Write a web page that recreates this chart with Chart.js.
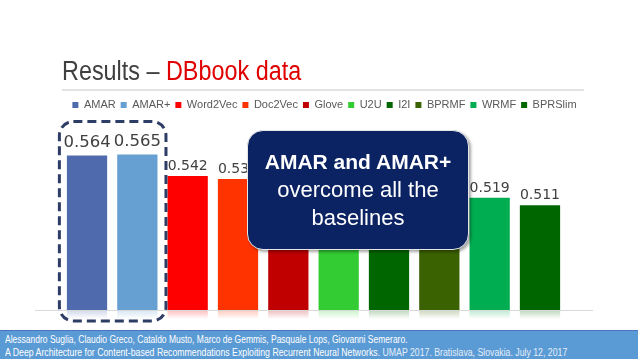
<!DOCTYPE html>
<html>
<head>
<meta charset="utf-8">
<script src="https://cdn.jsdelivr.net/npm/chart.js@4.4.0/dist/chart.umd.min.js"></script>
<style>
  html, body { margin: 0; padding: 0; background: #fff; }
  #slide { position: relative; width: 638px; height: 359px; overflow: hidden; font-family: "Liberation Sans", Arial, sans-serif; }
  #chart { position: absolute; left: 0; top: 0; }
  #title { position: absolute; left: 62px; top: 58px; font-size: 27px; line-height: 27px; color: #404040; white-space: nowrap; transform: scaleX(0.866); transform-origin: 0 0; }
  #title span { color: #e00000; }
  #rule { position: absolute; left: 62px; top: 89px; width: 522px; height: 2px; background: #e3e3e3; }
  #callout { position: absolute; left: 247px; top: 130px; width: 222px; height: 120px; box-sizing: border-box; background: #0b2263; border: 1.5px solid #e6e6e6; border-radius: 16px; box-shadow: 2px 2px 3px rgba(0,0,0,0.35); color: #fff; text-align: center; }
  #callout div { position: absolute; left: 0; right: 0; line-height: 28px; white-space: nowrap; }
  #footer { position: absolute; left: 0; top: 330px; width: 638px; height: 29px; background: #5b9bd5; border-top: 1.5px solid #4a74c0; box-sizing: border-box; color: #fff; font-size: 10px; }
  #footer div { position: absolute; left: 5px; white-space: nowrap; line-height: 12px; transform-origin: 0 0; }
  #footer .light { color: #e4eef9; }
</style>
</head>
<body>
<div id="slide">
  <canvas id="chart" width="638" height="359"></canvas>
  <div id="title">Results – <span>DBbook data</span></div>
  <div id="rule"></div>
  <div id="callout">
    <div style="top:17px;font-weight:bold;font-size:21px;">AMAR and AMAR+</div>
    <div style="top:45px;font-size:22px;">overcome all the</div>
    <div style="top:73px;font-size:22px;">baselines</div>
  </div>
  <div id="footer">
    <div style="top:3px;transform:scaleX(0.85);">Alessandro Suglia, Claudio Greco, Cataldo Musto, Marco de Gemmis, Pasquale Lops, Giovanni Semeraro.</div>
    <div style="top:16px;transform:scaleX(0.873);">A Deep Architecture for Content-based Recommendations Exploiting Recurrent Neural Networks. <span class="light">UMAP 2017. Bratislava, Slovakia. July 12, 2017</span></div>
  </div>
</div>
<script>
var methods = ['AMAR', 'AMAR+', 'Word2Vec', 'Doc2Vec', 'Glove', 'U2U', 'I2I', 'BPRMF', 'WRMF', 'BPRSlim'];
var scores = [0.564, 0.565, 0.542, 0.539, 0.533, 0.527, 0.525, 0.523, 0.519, 0.511];
var colors = ['#4f6aad', '#669fd2', '#ff0000', '#ff3300', '#c00000', '#33cc33', '#006600', '#3a6200', '#00ad50', '#006600'];
var scoreLabels = ['0.564', '0.565', '0.542', '0.539', '0.533', '0.527', '0.525', '0.523', '0.519', '0.511'];

var datasets = methods.map(function (m, i) {
    return {
        label: m,
        data: [scores[i]],
        backgroundColor: colors[i],
        borderWidth: 0,
        categoryPercentage: 0.9036,
        barPercentage: 0.8
    };
});

// move the legend a bit to the right, like on the slide
var legendShift = {
    id: 'legendShift',
    afterLayout: function (chart) {
        chart.legend.left += 11;
        chart.legend.right += 11;
    }
};

var valueLabels = {
    id: 'valueLabels',
    afterDatasetsDraw: function (chart) {
        var ctx = chart.ctx;
        var bottom = chart.chartArea.bottom;
        ctx.save();
        chart.data.datasets.forEach(function (ds, i) {
            var bar = chart.getDatasetMeta(i).data[0];
            // faint reflection under the bar
            var g = ctx.createLinearGradient(0, bottom, 0, bottom + 9);
            g.addColorStop(0, ds.backgroundColor + '44');
            g.addColorStop(1, ds.backgroundColor + '00');
            ctx.fillStyle = g;
            ctx.fillRect(bar.x - bar.width / 2, bottom + 1, bar.width, 9);

            var big = i < 2;
            ctx.font = (big ? '16.5px' : '14px') + ' "DejaVu Sans"';
            ctx.fillStyle = '#404040';
            ctx.textAlign = 'center';
            ctx.textBaseline = 'alphabetic';
            ctx.fillText(scoreLabels[i], bar.x, bar.y - (big ? 8 : 6));
        });
        ctx.restore();
    },
    afterDraw: function (chart) {
        // dashed frame around the two AMAR bars
        var a = chart.getDatasetMeta(0).data[0];
        var b = chart.getDatasetMeta(1).data[0];
        var x0 = a.x - a.width / 2 - 7.5;
        var x1 = b.x + b.width / 2 + 8.5;
        var y0 = b.y - 33;
        var y1 = chart.chartArea.bottom + 11;
        var r = 14;
        var ctx = chart.ctx;
        ctx.save();
        ctx.strokeStyle = '#2e3d66';
        ctx.lineWidth = 3;
        ctx.setLineDash([9, 5]);
        ctx.beginPath();
        ctx.moveTo(x0 + r, y0);
        ctx.arcTo(x1, y0, x1, y1, r);
        ctx.arcTo(x1, y1, x0, y1, r);
        ctx.arcTo(x0, y1, x0, y0, r);
        ctx.arcTo(x0, y0, x1, y0, r);
        ctx.closePath();
        ctx.stroke();
        ctx.restore();
    }
};

var ctx = document.getElementById('chart').getContext('2d');
var myChart = new Chart(ctx, {
    type: 'bar',
    data: {
        labels: ['DBbook'],
        datasets: datasets
    },
    options: {
        responsive: false,
        animation: false,
        layout: {
            padding: { top: 94.5, left: 35, right: 46, bottom: 49 }
        },
        plugins: {
            legend: {
                position: 'top',
                labels: {
                    boxWidth: 6,
                    boxHeight: 6,
                    padding: 5,
                    color: '#595959',
                    font: { family: '"Liberation Sans", sans-serif', size: 11 }
                }
            },
            tooltip: { enabled: false }
        },
        scales: {
            x: {
                ticks: { display: false },
                grid: { display: false, drawTicks: false },
                border: { display: true, color: '#d9d9d9', width: 1 }
            },
            y: {
                display: false,
                min: 0.4,
                max: 0.601
            }
        }
    },
    plugins: [legendShift, valueLabels]
});
</script>
</body>
</html>
